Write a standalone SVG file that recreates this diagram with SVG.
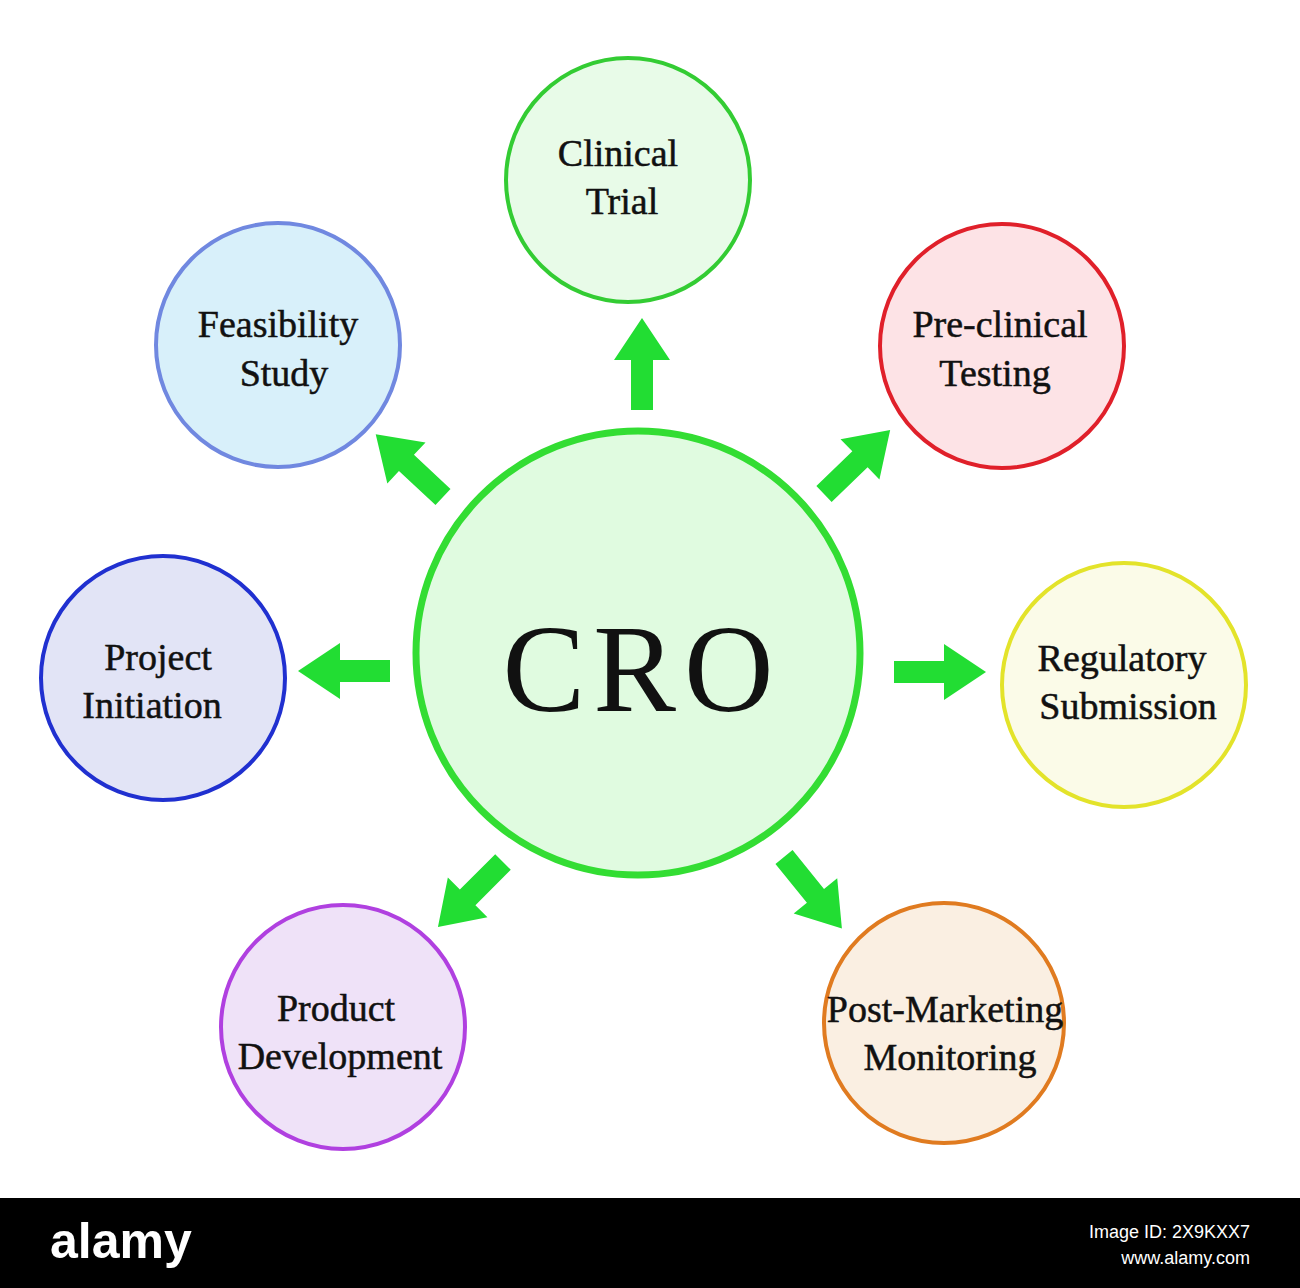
<svg xmlns="http://www.w3.org/2000/svg" width="1300" height="1288" viewBox="0 0 1300 1288">
<style>
.n{stroke-width:4}
.t{font-family:"Liberation Serif","Times New Roman",serif;font-size:38px;fill:#111;text-anchor:middle;stroke:#111;stroke-width:0.5}
.a{fill:#22dd33}
</style>
<defs><path id="arr" d="M0,-11 H50 V-28 L92,0 L50,28 V11 H0 Z"/></defs>
<rect width="1300" height="1288" fill="#fff"/>
<g id="connectors" class="a">
<use href="#arr" transform="translate(642,410) rotate(-90)"/>
<use href="#arr" transform="translate(824,494) rotate(-44)"/>
<use href="#arr" transform="translate(894,672)"/>
<use href="#arr" transform="translate(784,857) rotate(51)"/>
<use href="#arr" transform="translate(503,862) rotate(135)"/>
<use href="#arr" transform="translate(390,671) rotate(180)"/>
<use href="#arr" transform="translate(443,497) rotate(-137)"/>
</g>
<g id="cro"><circle cx="638" cy="653" r="222" fill="#e0fbe0" stroke="#33dd33" stroke-width="7"/><text x="642" y="711" font-family="Liberation Serif,serif" font-size="124" text-anchor="middle" letter-spacing="8" fill="#111">CRO</text></g>
<g id="clinical"><circle class="n" cx="628" cy="180" r="122" fill="#e8fbe8" stroke="#33cc33"/><text class="t" x="618" y="166">Clinical</text><text class="t" x="622" y="214">Trial</text></g>
<g id="preclinical"><circle class="n" cx="1002" cy="346" r="122" fill="#fde3e6" stroke="#e0202a"/><text class="t" x="1000" y="337">Pre-clinical</text><text class="t" x="995" y="386">Testing</text></g>
<g id="regulatory"><circle class="n" cx="1124" cy="685" r="122" fill="#fbfbe8" stroke="#e3e32a"/><text class="t" x="1122" y="671">Regulatory</text><text class="t" x="1128" y="719">Submission</text></g>
<g id="postmarketing"><circle class="n" cx="944" cy="1023" r="120" fill="#faefe2" stroke="#e07b20"/><text class="t" x="945" y="1022">Post-Marketing</text><text class="t" x="950" y="1070">Monitoring</text></g>
<g id="product"><circle class="n" cx="343" cy="1027" r="122" fill="#efe2f8" stroke="#b040e0"/><text class="t" x="336" y="1021">Product</text><text class="t" x="340" y="1069">Development</text></g>
<g id="project"><circle class="n" cx="163" cy="678" r="122" fill="#e2e4f6" stroke="#2030d0"/><text class="t" x="158" y="670">Project</text><text class="t" x="152" y="718">Initiation</text></g>
<g id="feasibility"><circle class="n" cx="278" cy="345" r="122" fill="#d8f0fa" stroke="#7088e0"/><text class="t" x="278" y="337">Feasibility</text><text class="t" x="284" y="386">Study</text></g>
<g id="footer"><rect x="0" y="1198" width="1300" height="90" fill="#000"/><text x="50" y="1258" font-family="Liberation Sans,sans-serif" font-size="50" font-weight="bold" fill="#fff">alamy</text><text x="1250" y="1238" font-family="Liberation Sans,sans-serif" font-size="18" fill="#fff" text-anchor="end">Image ID: 2X9KXX7</text><text x="1250" y="1264" font-family="Liberation Sans,sans-serif" font-size="18" fill="#fff" text-anchor="end">www.alamy.com</text></g>
</svg>
